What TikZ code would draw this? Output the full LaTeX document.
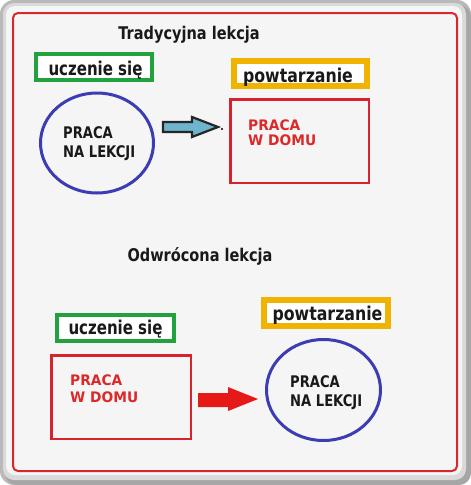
\documentclass[tikz,border=0pt]{standalone}
\usepackage{fontspec}
\setmainfont{DejaVu Sans}
\usetikzlibrary{shapes.geometric}
\definecolor{bgc}{RGB}{245,245,245}
\definecolor{framered}{RGB}{215,40,45}
\definecolor{greenc}{RGB}{34,162,60}
\definecolor{goldc}{RGB}{240,180,0}
\definecolor{bluec}{RGB}{60,60,180}
\definecolor{boxred}{RGB}{215,35,45}
\definecolor{textred}{RGB}{220,40,40}
\definecolor{arrowblue}{RGB}{110,180,205}
\definecolor{arrowred}{RGB}{230,25,25}
\newcommand{\sx}[2]{\scalebox{#1}[1]{#2}}
\begin{document}
\begin{tikzpicture}[x=1pt,y=-1pt,
  titletext/.style={font=\bfseries\fontsize{17.5}{19}\selectfont, text=black!90, inner sep=0pt},
  labeltext/.style={font=\bfseries\fontsize{19}{21}\selectfont, text=black!90, inner sep=0pt},
  greenbox/.style={draw=greenc, line width=4pt, fill=white, inner sep=0pt},
  goldbox/.style={draw=goldc, line width=6pt, fill=white, inner sep=0pt},
  redbox/.style={draw=boxred, line width=2.5pt, inner sep=0pt},
  ovalbox/.style={ellipse, draw=bluec, line width=3pt, inner sep=0pt},
  pracablack/.style={font=\bfseries\fontsize{16}{18}\selectfont, text=black!90, inner sep=0pt},
  pracared/.style={font=\bfseries\fontsize{14.5}{16}\selectfont, text=textred, inner sep=0pt},
  blockarrow/.style={line join=miter}
]
\useasboundingbox (0,0) rectangle (471,485);
\fill[white] (0,0) rectangle (471,485);
\fill[gray!55, rounded corners=14pt] (0,0) rectangle (471,485);
\fill[gray!70, rounded corners=12pt] (5,5) rectangle (471,485);
\fill[gray!30, rounded corners=11pt] (3,3) rectangle (466,480);
\fill[bgc, rounded corners=9pt] (6,6) rectangle (462,475);
\draw[framered, line width=2pt, rounded corners=5pt] (13,13) rectangle (457,471);

% ---- Traditional lesson ----
\node[titletext, anchor=base] (t1) at (189,39) {\sx{0.83}{Tradycyjna lekcja}};

\node[greenbox, minimum width=116pt, minimum height=26pt] (g1) at (94,67) {};
\node[labeltext, anchor=base] (g1t) at (95.5,75.5) {\sx{0.79}{uczenie się}};

\node[goldbox, minimum width=133pt, minimum height=25pt] (y1) at (300.5,73.5) {};
\node[labeltext, anchor=base] (y1t) at (298,82) {\sx{0.83}{powtarzanie}};

\node[ovalbox, minimum width=113pt, minimum height=100pt] (c1) at (97,143) {};
\node[pracablack, anchor=base west] (c1a) at (63,138.5) {\sx{0.82}{PRACA}};
\node[pracablack, anchor=base west] (c1b) at (63,157) {\sx{0.82}{NA LEKCJI}};

\node[redbox, minimum width=138.5pt, minimum height=83.5pt] (r1) at (299.5,141) {};
\node[pracared, anchor=base west] (r1a) at (248,130.5) {\sx{0.95}{PRACA}};
\node[pracared, anchor=base west] (r1b) at (248,145.5) {\sx{0.95}{W DOMU}};

\draw[blockarrow, draw=black!85, line width=2.2pt, fill=arrowblue]
  (163,122) -- (192,122) -- (192,117) -- (218,127) -- (192,137) -- (192,132) -- (163,132) -- cycle;
\fill[black] (222,129) circle (1.1pt);

% ---- Flipped lesson ----
\node[titletext, anchor=base] (t2) at (200,261) {\sx{0.83}{Odwrócona lekcja}};

\node[greenbox, minimum width=117pt, minimum height=26pt] (g2) at (115.5,328) {};
\node[labeltext, anchor=base] (g2t) at (115.5,334.5) {\sx{0.79}{uczenie się}};

\node[goldbox, minimum width=124pt, minimum height=26pt] (y2) at (326,313) {};
\node[labeltext, anchor=base] (y2t) at (327.5,320.5) {\sx{0.83}{powtarzanie}};

\node[redbox, minimum width=139.5pt, minimum height=83.5pt] (r2) at (121,397) {};
\node[pracared, anchor=base west] (r2a) at (70,385.5) {\sx{0.95}{PRACA}};
\node[pracared, anchor=base west] (r2b) at (70,402) {\sx{0.95}{W DOMU}};

\node[ovalbox, minimum width=114pt, minimum height=101pt] (c2) at (323.5,390) {};
\node[pracablack, anchor=base west] (c2a) at (290,387) {\sx{0.82}{PRACA}};
\node[pracablack, anchor=base west] (c2b) at (290,406) {\sx{0.82}{NA LEKCJI}};

\fill[blockarrow, arrowred]
  (198,393) -- (228,393) -- (228,387) -- (258,399) -- (228,411) -- (228,407) -- (198,407) -- cycle;
\end{tikzpicture}
\end{document}
